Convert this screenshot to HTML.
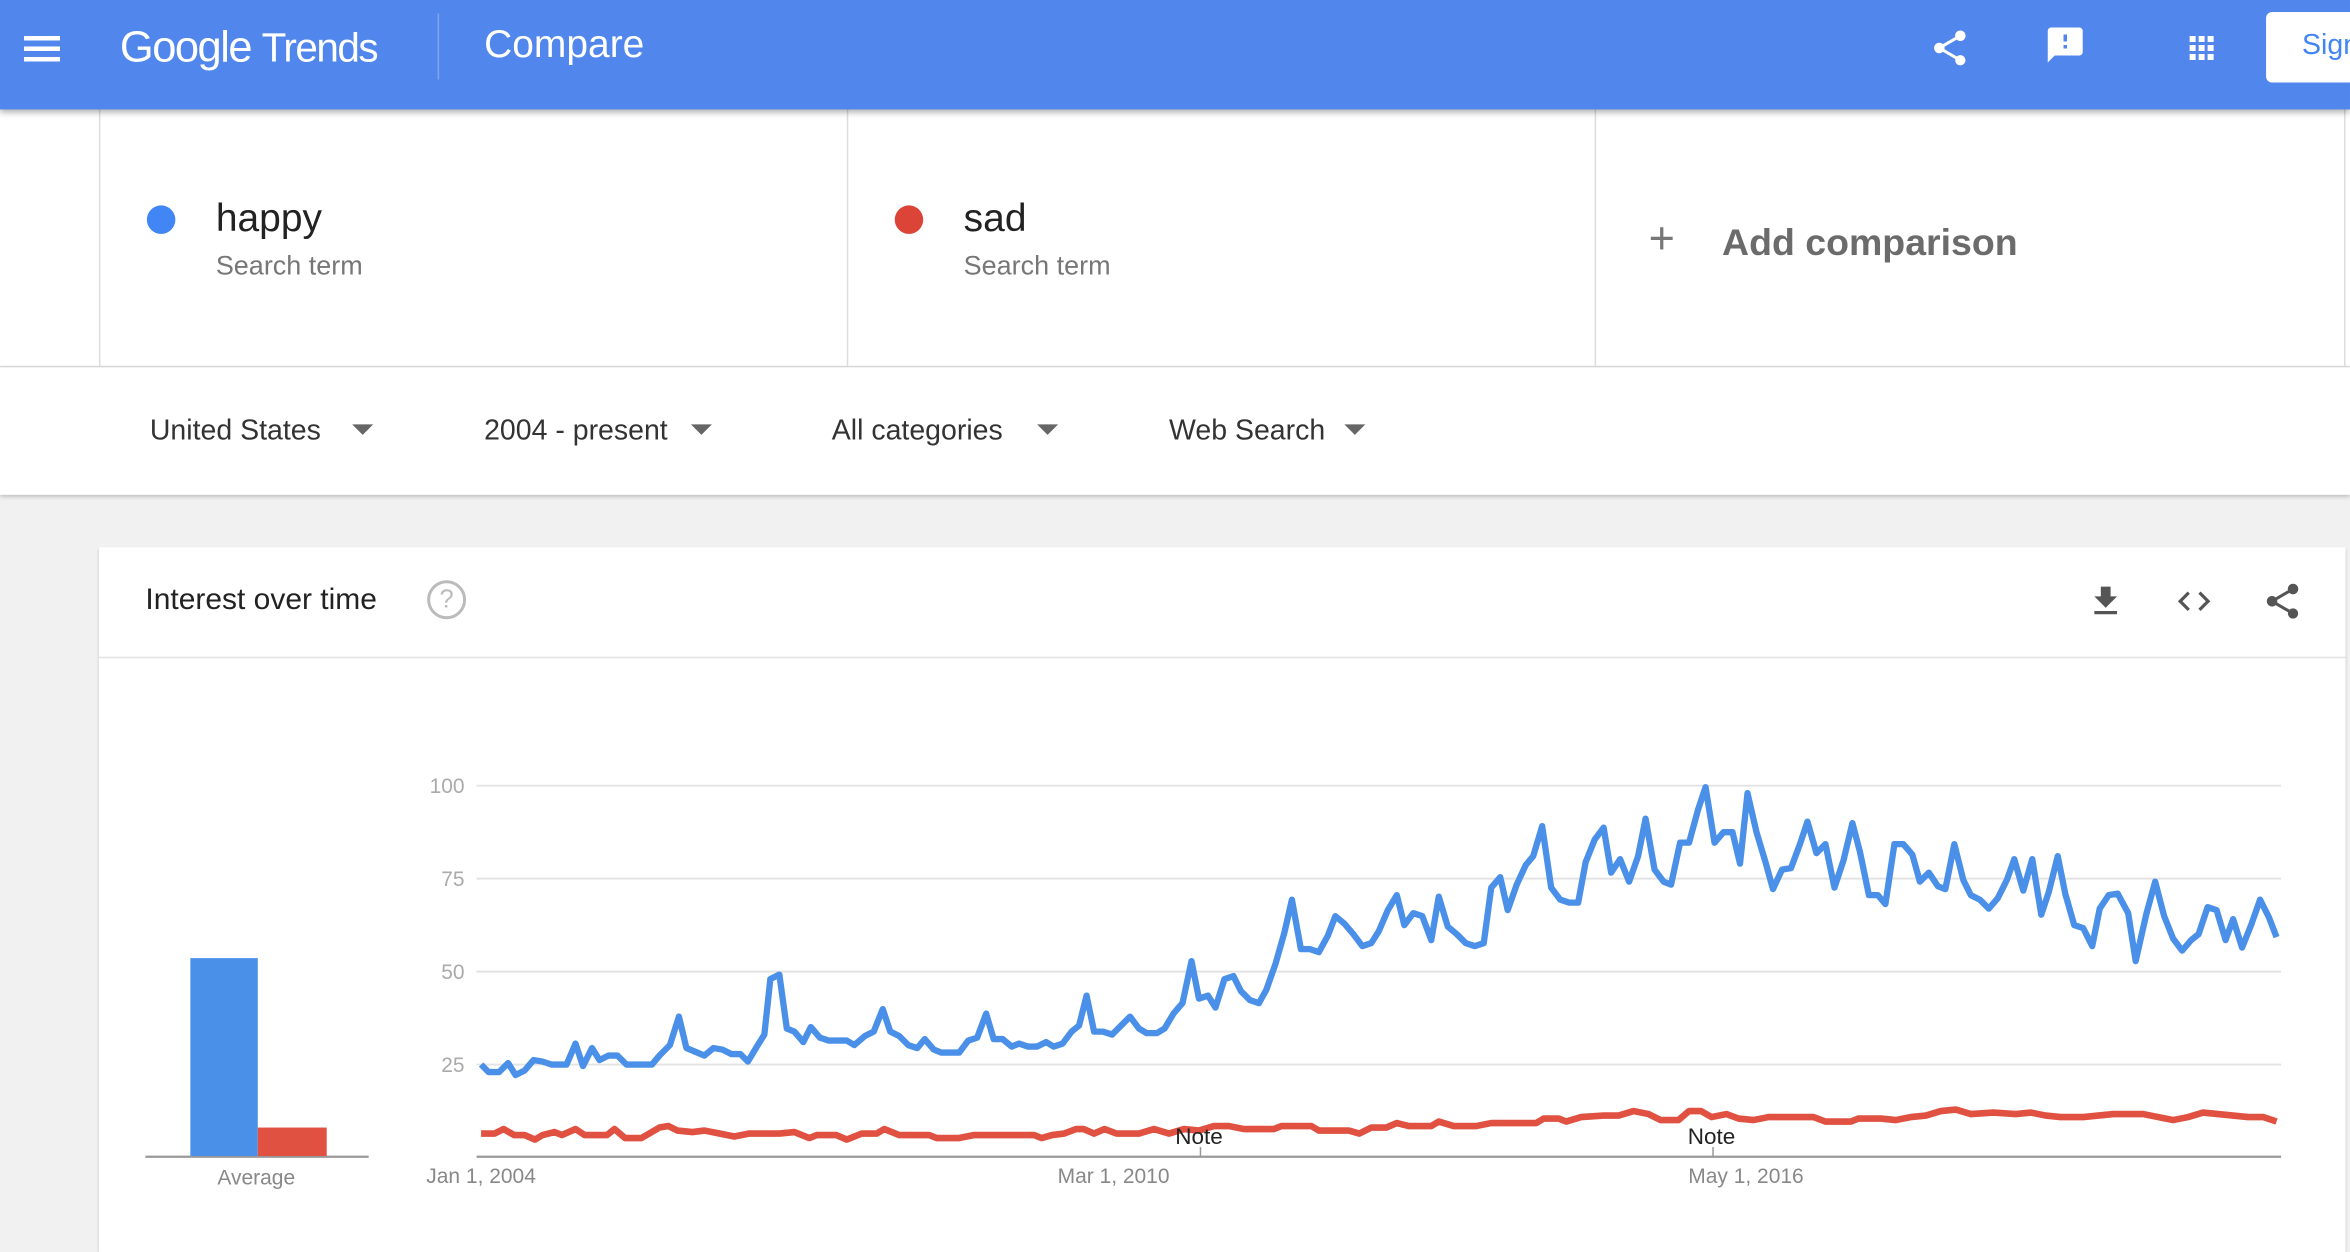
<!DOCTYPE html>
<html><head><meta charset="utf-8"><style>
html,body{margin:0;padding:0;width:2350px;height:1240px;overflow:hidden;background:#f1f1f1;}
#s{position:absolute;left:0;top:0;width:1568px;height:827px;transform:scale(1.49872,1.49940);transform-origin:0 0;font-family:"Liberation Sans",Arial,sans-serif;background:#f1f1f1;}
.a{position:absolute;white-space:nowrap;}
</style></head><body><div id="s">
<div class="a" style="left:0;top:0;width:1568px;height:73px;background:#5187ec;box-shadow:0 2px 4px rgba(0,0,0,.3);z-index:2"></div>
<div class="a" style="left:16px;top:24px;width:24px;height:3px;background:#fff;box-shadow:0 7px 0 #fff,0 14px 0 #fff;z-index:3"></div>
<div class="a" style="left:80px;top:16px;color:#fff;font-size:29px;letter-spacing:-1px;z-index:3">Google <span style="font-size:27px">Trends</span></div>
<div class="a" style="left:292px;top:9px;width:1px;height:44px;background:#7fa6ef;z-index:3"></div>
<div class="a" style="left:323px;top:14px;color:#fff;font-size:26px;z-index:3">Compare</div>
<svg class="a" style="left:1287px;top:18px;z-index:3" width="28" height="28" viewBox="0 0 24 24"><path fill="#fff" d="M18 16.08c-.76 0-1.44.3-1.96.77L8.91 12.7c.05-.23.09-.46.09-.7s-.04-.47-.09-.7l7.05-4.11c.54.5 1.25.81 2.04.81 1.66 0 3-1.34 3-3s-1.34-3-3-3-3 1.34-3 3c0 .24.04.47.09.7L8.04 9.81C7.5 9.31 6.79 9 6 9c-1.66 0-3 1.34-3 3s1.34 3 3 3c.79 0 1.5-.31 2.04-.81l7.12 4.16c-.05.21-.08.43-.08.65 0 1.610 1.31 2.92 2.92 2.92 1.61 0 2.92-1.31 2.92-2.92s-1.31-2.92-2.92-2.92z"/></svg>
<svg class="a" style="left:1364px;top:16px;z-index:3" width="28" height="28" viewBox="0 0 24 24"><path fill="#fff" d="M20 2H4c-1.1 0-2 .9-2 2v18l4-4h14c1.1 0 2-.9 2-2V4c0-1.1-.9-2-2-2zm-7 12h-2v-2h2v2zm0-4h-2V6h2v4z"/></svg>
<svg class="a" style="left:1457px;top:20px;z-index:3" width="24" height="24" viewBox="0 0 24 24"><path fill="#fff" d="M4 8h4V4H4v4zm6 12h4v-4h-4v4zm-6 0h4v-4H4v4zm0-6h4v-4H4v4zm6 0h4v-4h-4v4zm6-10v4h4V4h-4zm-6 4h4V4h-4v4zm6 6h4v-4h-4v4zm0 6h4v-4h-4v4z"/></svg>
<div class="a" style="left:1512px;top:8px;width:70px;height:47px;background:#fff;border-radius:4px;z-index:3"></div>
<div class="a" style="left:1536px;top:20px;color:#4285f4;font-size:19px;z-index:4">Sign</div>

<div class="a" style="left:0;top:73px;width:1568px;height:171px;background:#fff;border-bottom:1px solid #ddd"></div>
<div class="a" style="left:66px;top:73px;width:1px;height:171px;background:#ddd"></div>
<div class="a" style="left:565px;top:73px;width:1px;height:171px;background:#ddd"></div>
<div class="a" style="left:1064px;top:73px;width:1px;height:171px;background:#ddd"></div>
<div class="a" style="left:1564px;top:73px;width:1px;height:171px;background:#ddd"></div>
<div class="a" style="left:98px;top:137px;width:19px;height:19px;border-radius:50%;background:#4285f4"></div>
<div class="a" style="left:144px;top:130px;font-size:26px;color:#222">happy</div>
<div class="a" style="left:144px;top:167px;font-size:18px;color:#777">Search term</div>
<div class="a" style="left:597px;top:137px;width:19px;height:19px;border-radius:50%;background:#db4437"></div>
<div class="a" style="left:643px;top:130px;font-size:26px;color:#222">sad</div>
<div class="a" style="left:643px;top:167px;font-size:18px;color:#777">Search term</div>
<div class="a" style="left:1100px;top:143px;font-size:30px;color:#777;font-weight:300">+</div>
<div class="a" style="left:1149px;top:148px;font-size:25px;color:#6b6b6b;font-weight:bold">Add comparison</div>

<div class="a" style="left:0;top:245px;width:1568px;height:85px;background:#fff;box-shadow:0 1px 3px rgba(0,0,0,.25)"></div>
<div class="a" style="left:100px;top:277px;font-size:19px;color:#333">United States</div>
<div class="a" style="left:323px;top:277px;font-size:19px;color:#333">2004 - present</div>
<div class="a" style="left:555px;top:277px;font-size:19px;color:#333">All categories</div>
<div class="a" style="left:780px;top:277px;font-size:19px;color:#333">Web Search</div>
<svg class="a" style="left:0;top:280px" width="1000" height="16"><g fill="#666"><path d="M235 3h14l-7 7z"/><path d="M461 3h14l-7 7z"/><path d="M692 3h14l-7 7z"/><path d="M897 3h14l-7 7z"/></g></svg>

<div class="a" style="left:66px;top:365px;width:1499px;height:470px;background:#fff;box-shadow:0 1px 2px rgba(0,0,0,.2)"></div>
<div class="a" style="left:97px;top:389px;font-size:20px;color:#222">Interest over time</div>
<div class="a" style="left:285px;top:387px;width:22px;height:22px;border:2px solid #bbb;border-radius:50%;color:#bbb;font-size:17px;text-align:center;line-height:22px">?</div>
<div class="a" style="left:66px;top:438px;width:1499px;height:1px;background:#e3e3e3"></div>
<svg class="a" style="left:1392px;top:388px" width="26" height="26" viewBox="0 0 24 24"><path fill="#555" d="M19 9h-4V3H9v6H5l7 7 7-7zM5 18v2h14v-2H5z"/></svg>
<svg class="a" style="left:1450px;top:388px" width="28" height="26" viewBox="0 0 24 24"><path fill="#555" d="M9.4 16.6L4.8 12l4.6-4.6L8 6l-6 6 6 6 1.4-1.4zm5.2 0l4.6-4.6-4.6-4.6L16 6l6 6-6 6-1.4-1.4z"/></svg>
<svg class="a" style="left:1509px;top:387px" width="28" height="28" viewBox="0 0 24 24"><path fill="#555" d="M18 16.08c-.76 0-1.44.3-1.96.77L8.91 12.7c.05-.23.09-.46.09-.7s-.04-.47-.09-.7l7.05-4.11c.54.5 1.25.81 2.04.81 1.66 0 3-1.34 3-3s-1.34-3-3-3-3 1.34-3 3c0 .24.04.47.09.7L8.04 9.81C7.5 9.31 6.79 9 6 9c-1.66 0-3 1.34-3 3s1.34 3 3 3c.79 0 1.5-.31 2.04-.81l7.12 4.16c-.05.21-.08.43-.08.65 0 1.61 1.31 2.92 2.92 2.92 1.61 0 2.92-1.31 2.92-2.92s-1.31-2.92-2.92-2.92z"/></svg>

<svg class="a" style="left:0;top:0" width="1568" height="827">
<g stroke="#e3e3e3" stroke-width="1.3"><line x1="318" y1="524" x2="1522" y2="524"/><line x1="318" y1="586" x2="1522" y2="586"/><line x1="318" y1="648" x2="1522" y2="648"/><line x1="318" y1="710" x2="1522" y2="710"/></g>
<g font-family="Liberation Sans,Arial,sans-serif" font-size="14" fill="#aaa" text-anchor="end"><text x="310" y="529">100</text><text x="310" y="591">75</text><text x="310" y="653">50</text><text x="310" y="715">25</text></g>
<line x1="318" y1="771.5" x2="1522" y2="771.5" stroke="#999" stroke-width="1.5"/>
<line x1="97" y1="771.5" x2="246" y2="771.5" stroke="#999" stroke-width="1.5"/>
<rect x="127" y="639" width="45" height="132" fill="#4a90e8"/>
<rect x="172" y="752" width="46" height="19" fill="#e05141"/>
<g font-family="Liberation Sans,Arial,sans-serif" font-size="14" fill="#888" text-anchor="middle"><text x="171" y="790">Average</text><text x="321" y="789">Jan 1, 2004</text><text x="743" y="789">Mar 1, 2010</text><text x="1165" y="789">May 1, 2016</text></g>
<polyline fill="none" stroke="#e05141" stroke-width="4.4" stroke-linejoin="round" points="321,756 330,756 336,753 343,757 350,757 357,760 362,757 370,755 375,757 384,753 390,757 405,757 410,753 417,759 428,759 440,752 446,751 452,754 462,755 470,754 480,756 490,758 500,756 520,756 530,755 540,759 545,757 558,757 565,760 575,756 585,756 590,753 600,757 620,757 625,759 640,759 650,757 690,757 695,759 702,757 710,756 718,753 723,753 730,756 737,753 745,756 760,756 770,753 780,756 790,753 800,754 810,751 820,751 830,753 850,753 855,751 875,751 880,754 900,754 907,756 915,752 925,752 932,749 940,751 955,751 960,748 970,751 985,751 995,749 1025,749 1030,746 1040,746 1045,748 1055,745 1070,744 1080,744 1090,741 1100,743 1108,747 1120,747 1127,741 1135,741 1142,745 1152,743 1160,746 1170,747 1180,745 1210,745 1218,748 1235,748 1240,746 1255,746 1265,747 1275,745 1285,744 1295,741 1305,740 1315,743 1330,742 1345,743 1355,742 1365,744 1375,745 1390,745 1400,744 1410,743 1430,743 1440,745 1450,747 1460,745 1470,742 1480,743 1500,745 1510,745 1519,748"/>
<polyline fill="none" stroke="#4a90e8" stroke-width="4.2" stroke-linejoin="round" points="321,710 326,715 333,715 339,709 344,717 350,714 356,707 362,708 368,710 378,710 384,696 389,711 395,699 400,707 406,704 412,704 418,710 435,710 440,704 447,697 453,678 458,699 470,704 476,699 482,700 488,703 494,703 499,708 505,698 510,690 514,653 520,650 525,686 530,688 536,695 541,685 547,692 553,694 565,694 570,697 577,691 583,688 589,673 594,688 600,691 606,697 612,699 617,693 623,700 628,702 640,702 646,694 652,692 658,676 663,693 669,693 675,698 680,696 686,698 692,698 698,695 703,698 709,696 715,688 720,684 725,664 730,688 736,688 742,690 748,684 754,678 760,686 765,689 772,689 777,686 783,676 789,669 795,641 800,666 806,664 811,672 817,653 823,651 828,661 834,667 840,669 845,660 851,643 857,622 862,600 868,633 874,633 880,635 886,624 891,611 897,616 903,623 909,631 915,629 920,621 926,607 932,597 937,617 943,609 949,611 955,627 960,598 966,618 972,623 978,629 984,631 990,629 995,592 1001,585 1006,607 1012,590 1018,577 1023,571 1029,551 1035,592 1041,600 1047,602 1053,602 1058,575 1064,560 1070,552 1075,582 1081,573 1087,588 1093,571 1098,546 1104,580 1110,588 1115,590 1121,562 1127,562 1133,540 1138,525 1144,562 1150,555 1156,555 1161,576 1166,529 1172,555 1178,575 1183,593 1189,580 1195,579 1201,563 1206,548 1212,569 1218,563 1224,592 1230,574 1236,549 1241,568 1247,597 1253,597 1258,603 1264,563 1270,563 1276,570 1281,588 1287,582 1293,591 1298,593 1304,563 1310,587 1315,597 1321,600 1327,606 1333,599 1339,587 1344,573 1350,594 1356,573 1362,610 1367,595 1373,571 1378,596 1384,617 1390,619 1396,631 1401,606 1407,597 1413,596 1420,609 1425,641 1432,610 1438,588 1444,611 1450,626 1456,634 1462,627 1467,623 1473,605 1479,607 1485,627 1490,613 1496,632 1502,617 1508,600 1514,612 1519,625"/>
<g font-family="Liberation Sans,Arial,sans-serif" font-size="15" fill="#222" text-anchor="middle"><text x="800" y="763">Note</text><text x="1142" y="763">Note</text></g>
<g stroke="#999" stroke-width="1"><line x1="801" y1="765" x2="801" y2="771"/><line x1="1143" y1="765" x2="1143" y2="771"/></g>
</svg>
</div></body></html>
